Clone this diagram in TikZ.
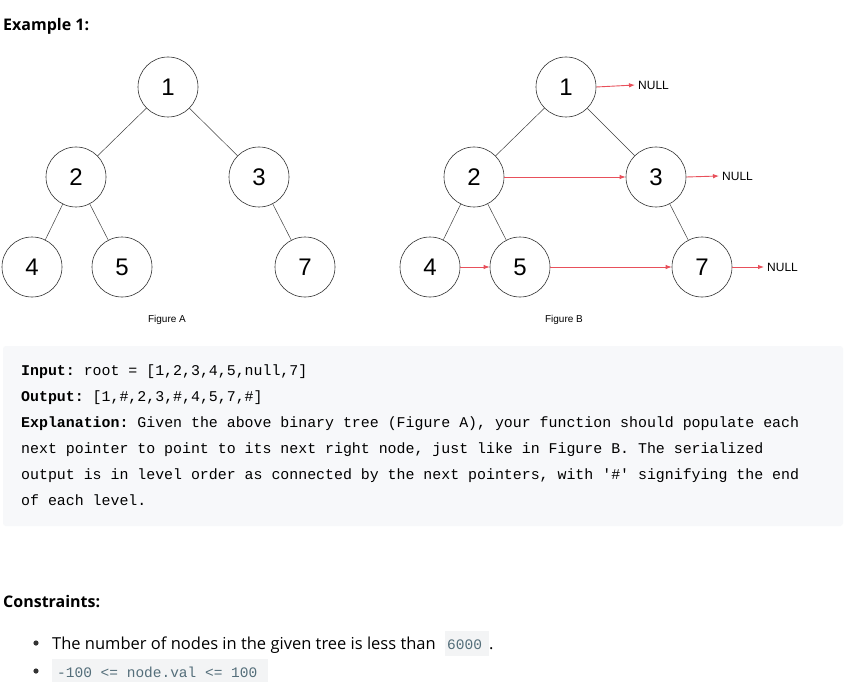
\documentclass[tikz,border=0pt]{standalone}
\usepackage{fontspec}
\setmainfont{Open Sans}
\setsansfont{Liberation Sans}
\setmonofont{Liberation Mono}
\usetikzlibrary{arrows.meta}
\definecolor{nullred}{HTML}{E8505B}
\definecolor{boxbg}{HTML}{F7F8FA}
\definecolor{codegray}{HTML}{546E7A}
\definecolor{codebg}{HTML}{F3F4F5}
\begin{document}
\begin{tikzpicture}[x=1pt,y=-1pt,
  tn/.style={circle,draw=black!80,line width=0.6pt,minimum size=60pt,inner sep=0pt,font=\sffamily\fontsize{24}{24}\selectfont},
  edge/.style={draw=black!75,line width=0.5pt},
  nx/.style={draw=nullred,line width=0.9pt,-{Latex[length=6pt,width=4.5pt]}},
  nulltxt/.style={font=\sffamily\fontsize{12}{12}\selectfont,anchor=west,inner sep=0pt},
  figcap/.style={font=\sffamily\fontsize{10}{10}\selectfont},
  mono/.style={font=\ttfamily\fontsize{14.9}{14.9}\selectfont,anchor=base west,inner sep=0pt},
  smono/.style={font=\ttfamily\fontsize{14.5}{14.5}\selectfont,anchor=base west,inner sep=0pt,text=codegray},
  hd/.style={font=\bfseries\fontsize{16}{16}\selectfont,anchor=base west,inner sep=0pt},
  body/.style={font=\fontsize{16.5}{16.5}\selectfont,anchor=base west,inner sep=0pt}]
\useasboundingbox[fill=white] (0,0) rectangle (852,682);
\node[hd] (ex) at (3,31) {Example 1:};
% Figure A
\node[tn] (a1) at (168,87) {1};
\node[tn] (a2) at (76,177) {2};
\node[tn] (a3) at (259,177) {3};
\node[tn] (a4) at (32,267) {4};
\node[tn] (a5) at (122,267) {5};
\node[tn] (a7) at (305,267) {7};
\draw[edge] (a1)--(a2); \draw[edge] (a1)--(a3);
\draw[edge] (a2)--(a4); \draw[edge] (a2)--(a5); \draw[edge] (a3)--(a7);
\node[figcap] (fa) at (167,320) {Figure A};
% Figure B
\node[tn] (b1) at (566,87) {1};
\node[tn] (b2) at (474,177) {2};
\node[tn] (b3) at (656,177) {3};
\node[tn] (b4) at (430,267) {4};
\node[tn] (b5) at (520,267) {5};
\node[tn] (b7) at (702,267) {7};
\draw[edge] (b1)--(b2); \draw[edge] (b1)--(b3);
\draw[edge] (b2)--(b4); \draw[edge] (b2)--(b5); \draw[edge] (b3)--(b7);
\node[nulltxt] (n1) at (638,85) {NULL};
\node[nulltxt] (n3) at (722,176) {NULL};
\node[nulltxt] (n7) at (767,267) {NULL};
\draw[nx] (b1.east) -- ([xshift=-3pt]n1.west);
\draw[nx] (b3.east) -- ([xshift=-3pt]n3.west);
\draw[nx] (b7.east) -- ([xshift=-3pt]n7.west);
\draw[nx] (b2.east) -- (b3.west);
\draw[nx] (b4.east) -- (b5.west);
\draw[nx] (b5.east) -- (b7.west);
\node[figcap] (fb) at (564,320) {Figure B};
% text box
\fill[boxbg,rounded corners=3pt] (3,346) rectangle (843,526);
\node[mono] (l1) at (21,375) {\textbf{Input:} root = [1,2,3,4,5,null,7]};
\node[mono] (l2) at (21,401) {\textbf{Output:} [1,\#,2,3,\#,4,5,7,\#]};
\node[mono] (l3) at (21,427) {\textbf{Explanation:} Given the above binary tree (Figure A), your function should populate each};
\node[mono] (l4) at (21,453) {next pointer to point to its next right node, just like in Figure B. The serialized};
\node[mono] (l5) at (21,479) {output is in level order as connected by the next pointers, with '\#' signifying the end};
\node[mono] (l6) at (21,505) {of each level.};
\node[hd] (cons) at (3,607) {Constraints:};
\fill[black!80] (36,643) circle (2.6pt);
\fill[black!80] (36,671) circle (2.6pt);
\node[body] (c1) at (52,649) {The number of nodes in the given tree is less than};
\fill[codebg] (445,631) rectangle (489,656);
\node[smono] (c1c) at (447,649) {6000};
\node[body] (c1d) at (489,649) {.};
\fill[codebg] (52,659) rectangle (268,682);
\node[smono] (c2) at (57,677) {-100 <= node.val <= 100};
\end{tikzpicture}
\end{document}
